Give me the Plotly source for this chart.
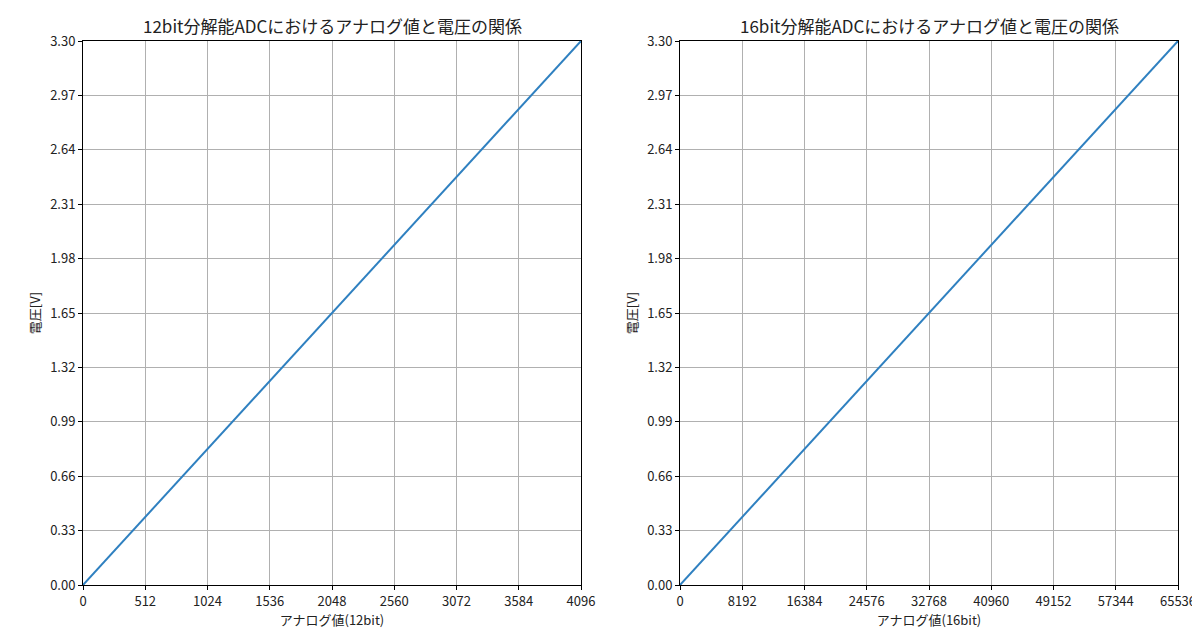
import plotly.graph_objects as go

x12 = [0, 4096]
y12 = [0, 3.3]
x16 = [0, 65536]
y16 = [0, 3.3]
ticks12 = [0, 512, 1024, 1536, 2048, 2560, 3072, 3584, 4096]
ticks16 = [0, 8192, 16384, 24576, 32768, 40960, 49152, 57344, 65536]
yticks = [0.00, 0.33, 0.66, 0.99, 1.32, 1.65, 1.98, 2.31, 2.64, 2.97, 3.30]
titles = ["12bit分解能ADCにおけるアナログ値と電圧の関係", "16bit分解能ADCにおけるアナログ値と電圧の関係"]
xlabels = ["アナログ値(12bit)", "アナログ値(16bit)"]
ylabel = "電圧[V]"

F = "Noto Sans CJK JP"
color = "#2f80c0"
fig = go.Figure()
fig.add_trace(go.Scatter(x=x12, y=y12, mode="lines", line=dict(color=color, width=2), xaxis="x", yaxis="y"))
fig.add_trace(go.Scatter(x=x16, y=y16, mode="lines", line=dict(color=color, width=2), xaxis="x2", yaxis="y2"))

yd = [(633 - 577) / 633, (633 - 33) / 633]
common = dict(showgrid=True, gridcolor="#b0b0b0", gridwidth=1, showline=True, linecolor="black",
              linewidth=1, mirror=True, ticks="outside", ticklen=4, tickcolor="black", zeroline=False,
              automargin=False, tickfont=dict(family=F, size=13, color="#222"))
ycommon = dict(common, range=[0, 3.3], tickvals=yticks, ticktext=[f"{v:.2f}" for v in yticks],
               title=dict(text=ylabel, font=dict(family=F, size=13, color="#222"), standoff=6))
fig.update_layout(
    width=1200, height=633, plot_bgcolor="white", paper_bgcolor="white", showlegend=False,
    margin=dict(l=0, r=0, t=0, b=0, autoexpand=False),
    xaxis=dict(common, domain=[75/1200, 573/1200], range=[0, 4096], tickvals=ticks12,
               ticktext=[str(v) for v in ticks12],
               title=dict(text=xlabels[0], font=dict(family=F, size=13, color="#222"), standoff=4)),
    xaxis2=dict(common, domain=[672/1200, 1170/1200], range=[0, 65536], tickvals=ticks16,
                ticktext=[str(v) for v in ticks16],
                title=dict(text=xlabels[1], font=dict(family=F, size=13, color="#222"), standoff=4)),
    yaxis=dict(ycommon, domain=yd, anchor="x"),
    yaxis2=dict(ycommon, domain=yd, anchor="x2"),
    annotations=[
        dict(text=titles[0], x=324/1200, y=1 - 17/633, xref="paper", yref="paper", showarrow=False,
             xanchor="center", yanchor="middle", font=dict(family=F, size=17, color="#222")),
        dict(text=titles[1], x=921/1200, y=1 - 17/633, xref="paper", yref="paper", showarrow=False,
             xanchor="center", yanchor="middle", font=dict(family=F, size=17, color="#222")),
    ],
)
fig.write_html("out.html")
